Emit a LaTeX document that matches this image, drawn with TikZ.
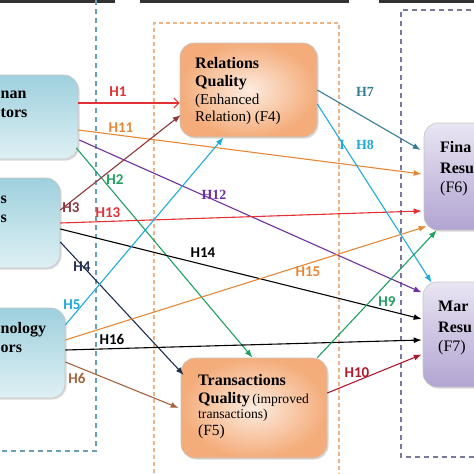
\documentclass[tikz,border=0pt]{standalone}
\usepackage{fontspec}
\setmainfont{Liberation Serif}
\newfontfamily\lblfont{Carlito}
\usetikzlibrary{arrows.meta,shadows}
\definecolor{leftA}{RGB}{158,208,221}
\definecolor{leftB}{RGB}{222,240,244}
\definecolor{oraI}{RGB}{253,236,224}
\definecolor{oraO}{RGB}{244,172,122}
\definecolor{purA}{RGB}{233,229,243}
\definecolor{purB}{RGB}{178,164,210}
\definecolor{dashL}{RGB}{105,160,180}
\definecolor{dashO}{RGB}{240,180,130}
\definecolor{dashP}{RGB}{120,120,155}
\definecolor{cRed}{RGB}{226,48,52}
\definecolor{cOra}{RGB}{230,135,55}
\definecolor{cGreen}{RGB}{30,160,95}
\definecolor{cPurple}{RGB}{112,48,160}
\definecolor{cBrown}{RGB}{140,55,60}
\definecolor{cNavy}{RGB}{30,45,80}
\definecolor{cCyan}{RGB}{30,170,220}
\definecolor{cBrownO}{RGB}{165,100,60}
\definecolor{cTeal}{RGB}{55,125,150}
\definecolor{cDRed}{RGB}{175,25,45}
\definecolor{barC}{RGB}{50,50,50}
\begin{document}
\begin{tikzpicture}[x=1pt,y=-1pt,
  basebox/.style={rounded corners=14pt, draw=gray!45, line width=0.6pt, inner sep=0pt,
    drop shadow={opacity=0.3, shadow xshift=1.5pt, shadow yshift=-1.5pt}},
  leftnode/.style={basebox, top color=leftA, bottom color=leftB},
  oranode/.style={basebox, inner color=oraI, outer color=oraO},
  purnode/.style={basebox, top color=purA, bottom color=purB},
  bigb/.style={font=\bfseries\fontsize{16}{16}\selectfont, inner sep=0pt},
  smr/.style={font=\fontsize{15}{15}\selectfont, inner sep=0pt},
  conn/.style={line width=1.1pt, -{Latex[length=8pt,width=6pt]}},
  lbl/.style={font=\lblfont\bfseries\fontsize{15}{15}\selectfont, inner sep=0pt},
  slbl/.style={font=\bfseries\fontsize{14}{14}\selectfont, inner sep=0pt},
]
\useasboundingbox (0,0) rectangle (474,474);
\clip (0,0) rectangle (474,474);
% top bars
\fill[barC] (0,0) rectangle (115,3);
\fill[barC] (140,0) rectangle (349,3);
\fill[barC] (379,0) rectangle (474,3);
% dashed group boxes
\draw[dashL, line width=1.3pt, dash pattern=on 5pt off 4pt] (96,0) -- (96,451) -- (-5,451);
\draw[dashO, line width=1.2pt, dash pattern=on 4pt off 3pt] (154,480) -- (154,23) -- (339,23) -- (339,480);
\draw[dashP, line width=1.2pt, dash pattern=on 5pt off 4pt] (480,10) -- (401,10) -- (401,457) -- (480,457);
% nodes
\node[leftnode, minimum width=148pt, minimum height=84pt] (f1) at (4,117) {};
\node[leftnode, minimum width=140pt, minimum height=90pt] (f2) at (-10,223) {};
\node[leftnode, minimum width=140pt, minimum height=90pt] (f3) at (-5,353) {};
\node[oranode, minimum width=137pt, minimum height=94pt] (f4) at (248.5,90) {};
\node[oranode, minimum width=146pt, minimum height=100pt] (f5) at (254,408) {};
\node[purnode, minimum width=120pt, minimum height=107pt] (f6) at (484,176.5) {};
\node[purnode, minimum width=120pt, minimum height=105pt] (f7) at (483,334.5) {};
% node texts
\node[bigb, anchor=base west] (f1a) at (0.5,98) {nan};
\node[bigb, anchor=base west] (f1b) at (0.5,117) {tors};
\node[bigb, anchor=base west] (f2a) at (0.5,203) {s};
\node[bigb, anchor=base west] (f2b) at (0.5,222) {s};
\node[bigb, anchor=base west] (f3a) at (0.5,333) {nology};
\node[bigb, anchor=base west] (f3b) at (0.5,352) {ors};
\node[bigb, anchor=base west] (f4a) at (195,68) {Relations};
\node[bigb, anchor=base west] (f4b) at (195,86) {Quality};
\node[smr, anchor=base west] (f4c) at (195,104) {(Enhanced};
\node[smr, anchor=base west] (f4d) at (195,121) {Relation) (F4)};
\node[bigb, anchor=base west] (f5a) at (198,385) {Transactions};
\node[anchor=base west, inner sep=0pt] (f5b) at (198,403) {{\bfseries\fontsize{16}{16}\selectfont Quality} {\fontsize{13.6}{14}\selectfont(improved}};
\node[anchor=base west, inner sep=0pt, font=\fontsize{13.6}{14}\selectfont] (f5c) at (198,418) {transactions)};
\node[smr, anchor=base west, font=\fontsize{15.5}{16}\selectfont] (f5d) at (198,435) {(F5)};
\node[bigb, anchor=base west] (f6a) at (440,152) {Fina};
\node[bigb, anchor=base west] (f6b) at (440,173) {Resu};
\node[smr, anchor=base west, font=\fontsize{16}{16}\selectfont] (f6c) at (440,192) {(F6)};
\node[bigb, anchor=base west] (f7a) at (438,311) {Mar};
\node[bigb, anchor=base west] (f7b) at (438,332) {Resu};
\node[smr, anchor=base west, font=\fontsize{16}{16}\selectfont] (f7c) at (438,351) {(F7)};
% connectors
\draw[cRed, line width=1.1pt, -{Straight Barb[length=5pt,width=10pt]}] ([shift={(0,-14)}]f1.east) -- ([shift={(0,13)}]f4.west);
\draw[conn, cOra] ([shift={(0,13)}]f1.east) -- ([shift={(-2,-2.5)}]f6.west);
\draw[conn, cGreen] ([shift={(-2,31)}]f1.east) -- ([shift={(-1.5,0)}]f5.north);
\draw[conn, cPurple] ([shift={(1,23)}]f1.east) -- ([shift={(-1,-42)}]f7.west);
\draw[conn, cBrown] ([shift={(0,-13)}]f2.east) -- ([shift={(1,25)}]f4.west);
\draw[conn, cRed] ([shift={(0,0)}]f2.east) -- ([shift={(-2,34.5)}]f6.west);
\draw[conn, black] ([shift={(0,6)}]f2.east) -- ([shift={(-1,-15.5)}]f7.west);
\draw[conn, cNavy] ([shift={(0,19)}]f2.east) -- ([shift={(3,-33)}]f5.west);
\draw[conn, cCyan] ([shift={(0,-28)}]f3.east) -- ([shift={(-25,0)}]f4.south);
\draw[conn, cOra] ([shift={(0,-13)}]f3.east) -- ([shift={(3,-4)}]f6.south west);
\draw[conn, black] ([shift={(0,-3)}]f3.east) -- ([shift={(-1,5.5)}]f7.west);
\draw[conn, cBrownO] ([shift={(0,9)}]f3.east) -- ([shift={(-2,0)}]f5.west);
\draw[conn, cTeal] ([shift={(0,0)}]f4.east) -- ([shift={(-3,-26.5)}]f6.west);
\draw[conn, cCyan] ([shift={(0,14)}]f4.east) -- ([shift={(9,1)}]f7.north west);
\draw[conn, cGreen] ([shift={(-10,0)}]f5.north east) -- ([shift={(13,0)}]f6.south west);
\draw[conn, cDRed] ([shift={(0,-15)}]f5.east) -- ([shift={(-1,20)}]f7.west);
% labels
\node[lbl, cRed] (h1) at (118,92) {H1};
\node[lbl, cOra] (h11) at (121,128) {H11};
\node[lbl, cGreen] (h2) at (115,180) {H2};
\node[slbl, cPurple] (h12) at (214,195) {H12};
\node[lbl, cBrown] (h3) at (71,208) {H3};
\node[lbl, cRed] (h13) at (108,213) {H13};
\node[lbl, black] (h14) at (203,253) {H14};
\node[lbl, cNavy] (h4) at (82,267) {H4};
\node[lbl, cCyan] (h5) at (72,305) {H5};
\node[lbl, cOra] (h15) at (308,272) {H15};
\node[lbl, black] (h16) at (112,339) {H16};
\node[lbl, cBrownO] (h6) at (77,378) {H6};
\node[slbl, cTeal] (h7) at (365,92) {H7};
\node[slbl, cCyan] (h8) at (365,145) {H8};
\node[slbl, cCyan] (h8i) at (342,145) {I};
\node[lbl, cGreen] (h9) at (387,302) {H9};
\node[lbl, cDRed] (h10) at (357,373) {H10};
\end{tikzpicture}
\end{document}
